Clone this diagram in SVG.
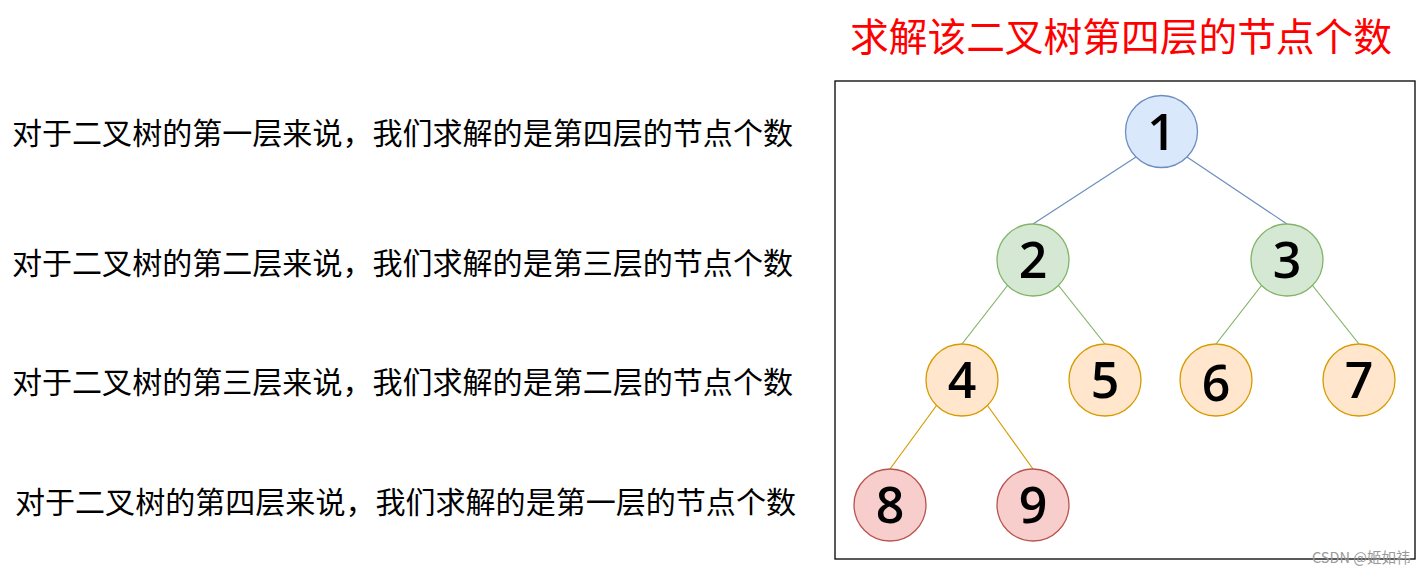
<svg xmlns="http://www.w3.org/2000/svg" width="1428" height="576" viewBox="0 0 1428 576">
<style>
.lbl{font-family:"Microsoft YaHei","Noto Sans CJK SC","Noto Sans",sans-serif;font-size:29.5px;fill:#000}
.title{font-family:"Microsoft YaHei","Noto Sans CJK SC","Noto Sans",sans-serif;font-size:38.5px;fill:#ff0000}
.num{font-family:"Comic Sans MS","Open Sans","DejaVu Sans",sans-serif;font-size:50px;font-weight:600;fill:#000;text-anchor:middle}
.n1{fill:#dae8fc;stroke:#6c8ebf;stroke-width:1.3}
.n2{fill:#d5e8d4;stroke:#82b366;stroke-width:1.3}
.n3{fill:#ffe6cc;stroke:#d79b00;stroke-width:1.3}
.n4{fill:#f8cecc;stroke:#b85450;stroke-width:1.3}
.wm{font-family:"Noto Sans CJK SC","Noto Sans",sans-serif;font-size:14.5px;fill:#9a9a9a}
</style>
<rect width="1428" height="576" fill="#fff"/>
<g id="texts">
<text class="lbl" x="12" y="144" textLength="781" lengthAdjust="spacingAndGlyphs">对于二叉树的第一层来说，我们求解的是第四层的节点个数</text>
<text class="lbl" x="12" y="274" textLength="781" lengthAdjust="spacingAndGlyphs">对于二叉树的第二层来说，我们求解的是第三层的节点个数</text>
<text class="lbl" x="12" y="393" textLength="781" lengthAdjust="spacingAndGlyphs">对于二叉树的第三层来说，我们求解的是第二层的节点个数</text>
<text class="lbl" x="15" y="513" textLength="781" lengthAdjust="spacingAndGlyphs">对于二叉树的第四层来说，我们求解的是第一层的节点个数</text>
<text class="title" x="850" y="51" textLength="542" lengthAdjust="spacingAndGlyphs">求解该二叉树第四层的节点个数</text>
</g>
<rect id="frame" x="835" y="81" width="580" height="478" fill="none" stroke="#000" stroke-width="1.3"/>
<g id="connectors" fill="none" stroke-width="1.2">
<line x1="1136" y1="157" x2="1033" y2="224" stroke="#6c8ebf"/>
<line x1="1187" y1="157" x2="1287" y2="224" stroke="#6c8ebf"/>
<line x1="1007.5" y1="285.5" x2="962" y2="344" stroke="#82b366"/>
<line x1="1058.5" y1="285.5" x2="1105" y2="344" stroke="#82b366"/>
<line x1="1261.5" y1="285.5" x2="1216" y2="344" stroke="#82b366"/>
<line x1="1312.5" y1="285.5" x2="1359" y2="344" stroke="#82b366"/>
<line x1="936.5" y1="405.5" x2="890" y2="469" stroke="#d79b00"/>
<line x1="987.5" y1="405.5" x2="1033" y2="469" stroke="#d79b00"/>
</g>
<g id="node1"><circle class="n1" cx="1161.5" cy="131.5" r="36"/><text class="num" x="1161.5" y="149.5">1</text></g>
<g id="node2"><circle class="n2" cx="1033" cy="260" r="36"/><text class="num" x="1033" y="278">2</text></g>
<g id="node3"><circle class="n2" cx="1287" cy="260" r="36"/><text class="num" x="1287" y="278">3</text></g>
<g id="node4"><circle class="n3" cx="962" cy="380" r="36"/><text class="num" x="962" y="398">4</text></g>
<g id="node5"><circle class="n3" cx="1105" cy="380" r="36"/><text class="num" x="1105" y="398">5</text></g>
<g id="node6"><circle class="n3" cx="1216" cy="380" r="36"/><text class="num" x="1216" y="401">6</text></g>
<g id="node7"><circle class="n3" cx="1359" cy="380" r="36"/><text class="num" x="1359" y="398">7</text></g>
<g id="node8"><circle class="n4" cx="890" cy="505" r="36"/><text class="num" x="890" y="523">8</text></g>
<g id="node9"><circle class="n4" cx="1033" cy="505" r="36"/><text class="num" x="1033" y="523">9</text></g>
<text class="wm" x="1312" y="563">CSDN @姬如祎</text>
</svg>
